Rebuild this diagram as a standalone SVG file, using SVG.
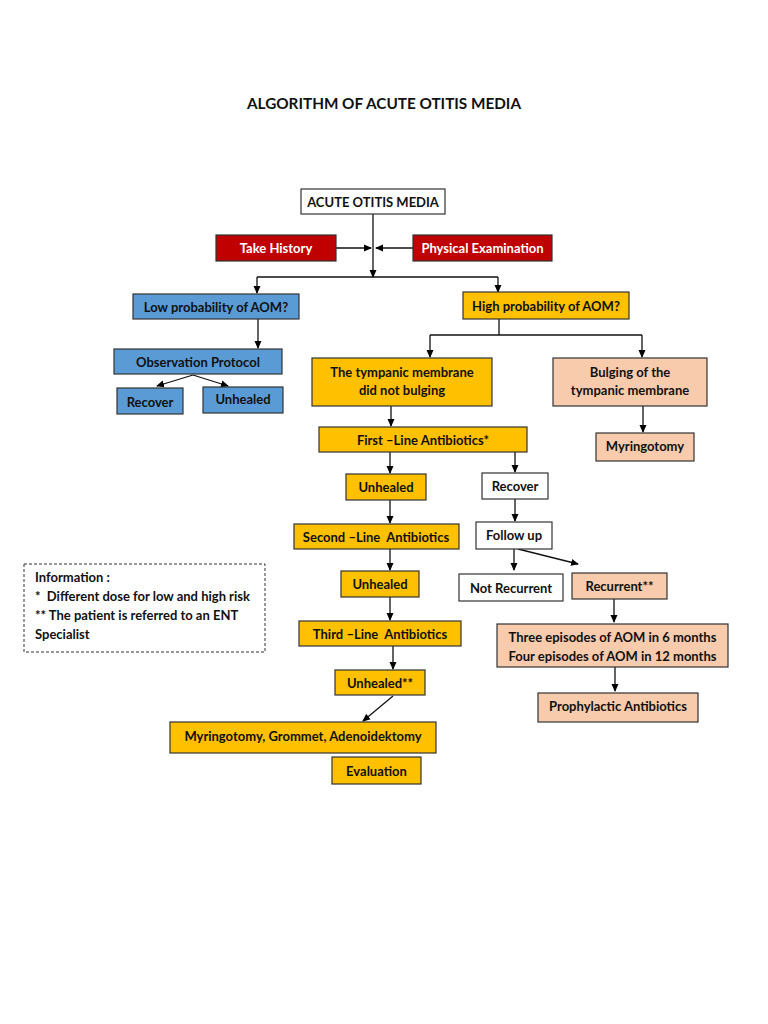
<svg xmlns="http://www.w3.org/2000/svg" width="768" height="1024" viewBox="0 0 768 1024">
<defs>
<marker id="ah" markerWidth="8" markerHeight="8" refX="7" refY="4" orient="auto" markerUnits="userSpaceOnUse">
<path d="M0,0.5 L8,4 L0,7.5 Z" fill="#000"/>
</marker>
<style>
text{font-family:Lato,"Open Sans","Liberation Sans",sans-serif;font-weight:bold;font-size:13px;fill:#111;text-anchor:middle;dominant-baseline:central;white-space:pre}
.b{stroke:#333;stroke-width:1.2}
.w{fill:#fff}
.o{fill:#FFC000}
.p{fill:#F8CBAD}
.bl{fill:#5B9BD5}
.r{fill:#C00000}
.rt{fill:#fff}
.c{stroke:#111;stroke-width:1.3;fill:none}
.a{stroke:#111;stroke-width:1.3;fill:none;marker-end:url(#ah)}
</style>
</defs>
<rect width="768" height="1024" fill="#fff"/>
<text x="384" y="103" style="font-size:15.3px">ALGORITHM OF ACUTE OTITIS MEDIA</text>

<g id="connectors">
<path class="a" d="M373,214 V277"/>
<path class="a" d="M336,248 H371"/>
<path class="a" d="M413,248 H376"/>
<path class="c" d="M257,277 H498"/>
<path class="a" d="M257,277 V293"/>
<path class="a" d="M498,277 V292"/>
<path class="a" d="M258,319 V348"/>
<path class="a" d="M193,375 L157,386"/>
<path class="a" d="M193,375 L228,386"/>
<path class="c" d="M499,319 V335"/>
<path class="c" d="M430,335 H642"/>
<path class="a" d="M430,335 V357"/>
<path class="a" d="M642,335 V357"/>
<path class="a" d="M643,406 V432"/>
<path class="a" d="M391,406 V426"/>
<path class="a" d="M390,452 V473"/>
<path class="a" d="M515,452 V472"/>
<path class="a" d="M390,500 V523"/>
<path class="a" d="M515,499 V521"/>
<path class="a" d="M390,549 V570"/>
<path class="a" d="M514,549 V570"/>
<path class="a" d="M518,549 L578,564"/>
<path class="a" d="M390,597 V620"/>
<path class="a" d="M393,646 V669"/>
<path class="a" d="M393,696 L363,721"/>
<path class="a" d="M614,599 V622"/>
<path class="a" d="M615,667 V691"/>
</g>

<g id="n-aom"><rect class="b w" x="301" y="189" width="144" height="25"/><text x="373" y="202">ACUTE OTITIS MEDIA</text></g>
<g id="n-history"><rect class="b r" x="216" y="235" width="120" height="26"/><text class="rt" x="276" y="248">Take History</text></g>
<g id="n-exam"><rect class="b r" x="413" y="235" width="139" height="26"/><text class="rt" x="482.5" y="248">Physical Examination</text></g>
<g id="n-low"><rect class="b bl" x="133" y="294" width="166" height="25"/><text x="216" y="307">Low probability of AOM?</text></g>
<g id="n-high"><rect class="b o" x="463" y="292" width="166" height="27"/><text x="546" y="305.5">High probability of AOM?</text></g>
<g id="n-obs"><rect class="b bl" x="114" y="349" width="168" height="25"/><text x="198" y="362">Observation Protocol</text></g>
<g id="n-recover1"><rect class="b bl" x="117" y="388" width="66" height="26"/><text x="150" y="402">Recover</text></g>
<g id="n-unhealed0"><rect class="b bl" x="203" y="387" width="80" height="26"/><text x="243" y="399">Unhealed</text></g>
<g id="n-tymp"><rect class="b o" x="312" y="358" width="180" height="48"/><text x="402" y="372">The tympanic membrane</text><text x="402" y="390">did not bulging</text></g>
<g id="n-bulg"><rect class="b p" x="553" y="358" width="154" height="48"/><text x="630" y="372">Bulging of the</text><text x="630" y="390">tympanic membrane</text></g>
<g id="n-myr"><rect class="b p" x="596" y="433" width="98" height="28"/><text x="645" y="446">Myringotomy</text></g>
<g id="n-first"><rect class="b o" x="319" y="427" width="208" height="25"/><text x="423" y="440">First –Line Antibiotics*</text></g>
<g id="n-unhealed1"><rect class="b o" x="346" y="474" width="80" height="26"/><text x="386" y="487">Unhealed</text></g>
<g id="n-recover2"><rect class="b w" x="482" y="473" width="66" height="26"/><text x="515" y="486">Recover</text></g>
<g id="n-second"><rect class="b o" x="294" y="524" width="165" height="25"/><text x="376" y="537">Second –Line  Antibiotics</text></g>
<g id="n-follow"><rect class="b w" x="476" y="522" width="76" height="27"/><text x="514" y="535">Follow up</text></g>
<g id="n-unhealed2"><rect class="b o" x="341" y="571" width="78" height="26"/><text x="380" y="584">Unhealed</text></g>
<g id="n-notrec"><rect class="b w" x="459" y="574" width="104" height="27"/><text x="511" y="588">Not Recurrent</text></g>
<g id="n-rec"><rect class="b p" x="572" y="573" width="95" height="26"/><text x="619.5" y="586">Recurrent**</text></g>
<g id="n-info"><rect x="24" y="564" width="241" height="88" fill="#fff" stroke="#333" stroke-width="1" stroke-dasharray="3,2"/>
<text x="35" y="577" style="text-anchor:start">Information :</text>
<text x="35" y="596" style="text-anchor:start">*  Different dose for low and high risk</text>
<text x="35" y="615" style="text-anchor:start">** The patient is referred to an ENT</text>
<text x="35" y="634" style="text-anchor:start">Specialist</text></g>
<g id="n-third"><rect class="b o" x="299" y="621" width="162" height="25"/><text x="380" y="634">Third –Line  Antibiotics</text></g>
<g id="n-three"><rect class="b p" x="497" y="624" width="231" height="43"/><text x="612.5" y="637">Three episodes of AOM in 6 months</text><text x="612.5" y="656">Four episodes of AOM in 12 months</text></g>
<g id="n-unhealed3"><rect class="b o" x="335" y="670" width="90" height="25"/><text x="380" y="683">Unhealed**</text></g>
<g id="n-proph"><rect class="b p" x="538" y="693" width="160" height="29"/><text x="618" y="706">Prophylactic Antibiotics</text></g>
<g id="n-surg"><rect class="b o" x="170" y="722" width="266" height="31"/><text x="303" y="736">Myringotomy, Grommet, Adenoidektomy</text></g>
<g id="n-eval"><rect class="b o" x="332" y="757" width="89" height="27"/><text x="376.5" y="771">Evaluation</text></g>
</svg>
